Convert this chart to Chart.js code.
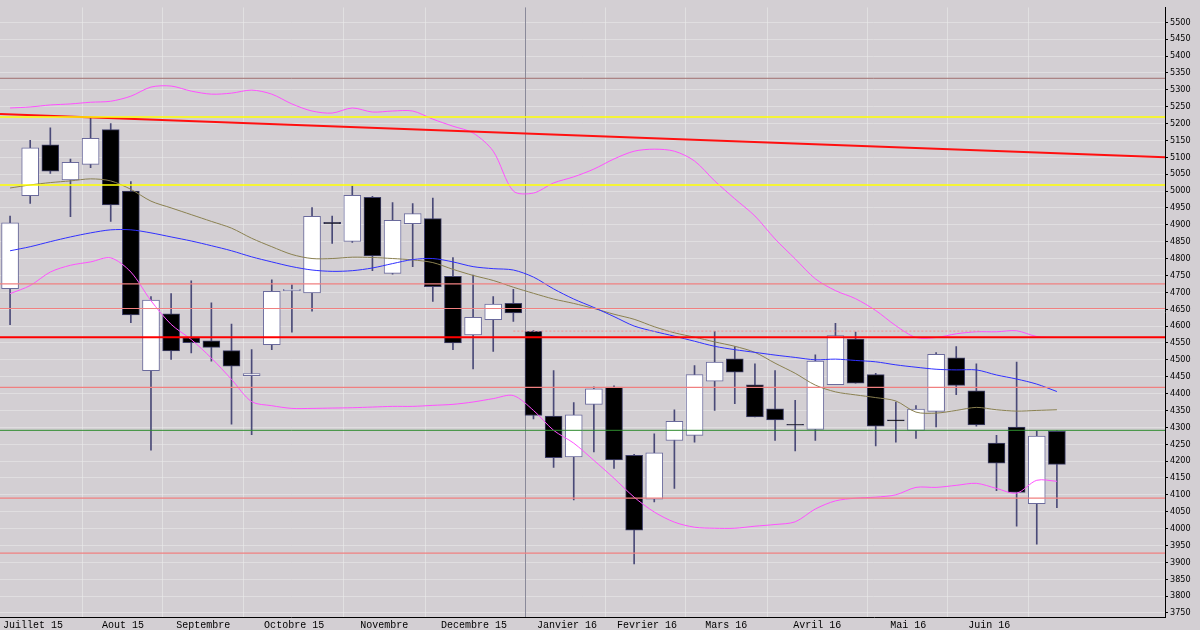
<!DOCTYPE html>
<html>
<head>
<meta charset="utf-8">
<script src="https://cdn.jsdelivr.net/npm/chart.js@4.4.1/dist/chart.umd.min.js"></script>
<style>
  html, body { margin: 0; padding: 0; background: #d3cfd3; }
  #wrap { width: 1200px; height: 630px; }
</style>
</head>
<body>
<div id="wrap"><canvas id="chart" width="1200" height="630"></canvas></div>
<script>
// weekly candles, Juillet 15 -> Juin 16
const opens  = [4711,4986,5137,5033,5079,5182,5000,4468,4636,4566,4556,4527,4453,4545,4705,4698,4907,4851,4981,4756,
                4903,4918,4747,4574,4619,4667,4584,4333,4212,4368,4419,4217,4087,4261,4276,4437,4503,4426,4355,4309,
                4294,4426,4561,4456,4322,4291,4347,4506,4408,4253,4301,4074,4288];
const closes = [4906,5128,5059,5085,5156,4959,4633,4677,4526,4551,4537,4481,4459,4703,4709,4925,4903,4987,4808,4913,
                4933,4717,4550,4626,4665,4639,4335,4210,4337,4414,4203,3995,4224,4318,4456,4493,4463,4331,4322,4306,
                4496,4572,4431,4303,4319,4354,4516,4424,4307,4194,4107,4274,4190];
const highs  = [4926,5150,5187,5095,5217,5200,5028,4687,4696,4734,4669,4606,4530,4737,4722,4951,4926,5015,4984,4966,
                4963,4979,4803,4751,4687,4709,4587,4468,4373,4420,4423,4220,4281,4352,4483,4584,4539,4488,4468,4380,
                4515,4608,4582,4460,4375,4364,4521,4539,4488,4276,4493,4289,4290];
const lows   = [4604,4963,5052,4924,5069,4910,4610,4232,4501,4520,4496,4309,4278,4530,4582,4644,4845,4848,4764,4754,
                4776,4673,4530,4473,4525,4614,4325,4181,4085,4227,4178,3895,4079,4119,4256,4350,4370,4331,4261,4230,
                4261,4426,4431,4245,4256,4267,4301,4397,4303,4112,4007,3954,4062];

const bbUpper = [5246,5249,5255,5258,5263,5266,5281,5308,5311,5296,5287,5290,5299,5287,5258,5237,5231,5246,5234,5237,
                 5237,5213,5192,5172,5118,5000,4994,5024,5042,5065,5095,5118,5124,5118,5089,5030,4977,4926,4858,4799,
                 4740,4705,4681,4646,4601,4566,4566,4577,4583,4583,4586,4569,4566];
const bbMiddle = [4823,4835,4850,4864,4876,4885,4885,4876,4864,4852,4838,4823,4805,4790,4776,4766,4762,4764,4772,4785,
                  4797,4800,4790,4776,4770,4766,4745,4710,4680,4655,4628,4600,4584,4570,4555,4540,4530,4522,4514,4507,
                  4500,4502,4498,4494,4485,4478,4472,4470,4470,4455,4443,4428,4406];
const bbLower = [4696,4720,4760,4780,4790,4802,4760,4675,4605,4560,4505,4442,4376,4364,4356,4356,4357,4358,4360,4362,
                 4362,4365,4368,4375,4385,4394,4350,4291,4253,4202,4149,4093,4049,4019,4004,4001,4001,4007,4012,4020,
                 4058,4082,4090,4093,4100,4122,4122,4128,4134,4119,4105,4143,4140];
const ma = [5009,5018,5025,5030,5036,5030,5005,4970,4950,4930,4910,4890,4860,4835,4812,4800,4800,4804,4803,4800,
            4796,4788,4768,4750,4735,4715,4697,4680,4667,4652,4635,4620,4598,4580,4567,4553,4540,4522,4490,4460,
            4425,4405,4396,4388,4378,4345,4342,4350,4359,4352,4348,4350,4352];

const monthLabels = ['Juillet 15','Aout 15','Septembre','Octobre 15','Novembre','Decembre 15',
                     'Janvier 16','Fevrier 16','Mars 16','Avril 16','Mai 16','Juin 16'];
const monthPos = [-0.35,4.57,8.25,12.62,17.39,21.41,26.18,30.15,34.53,38.9,43.72,47.6];
const gridPos = [3.58,7.55,11.57,16.54,20.62,25.58,29.56,33.53,37.6,42.57,46.55,50.57];
const yearPos = 25.58;
const yTicks = [];
for (let v = 3750; v <= 5500; v += 50) yTicks.push(v);

const redLevels = [4725, 4652, 4418, 4090, 3927];
const maroonLevel = 5334;
const yellowLevels = [5219, 5018];
const supportLevel = 4567;
const greenLevel = 4291;
const dottedLevel = { from: 25, to: 48.2, y: 4585 };
const trendLine = [{ x: -0.5, y: 5228 }, { x: 57.4, y: 5100 }];

const X_MIN = -0.5, X_MAX = 57.37;

const idx = opens.map((_, i) => i);
const upIdx = idx.filter(i => closes[i] >= opens[i]);
const dnIdx = idx.filter(i => closes[i] < opens[i]);

function hline(y, color, width, dash, from, to) {
  return {
    type: 'line',
    data: [{ x: from ?? X_MIN, y: y }, { x: to ?? X_MAX, y: y }],
    borderColor: color, borderWidth: width, borderDash: dash || [],
    pointRadius: 0, order: 0
  };
}
function curve(vals, color) {
  return {
    type: 'line',
    data: vals.map((v, i) => ({ x: i, y: v })),
    borderColor: color, borderWidth: 1, pointRadius: 0, tension: 0.3, order: 0
  };
}

const datasets = [
  {
    type: 'bar', data: idx.map(i => ({ x: i, y: [lows[i], highs[i]] })),
    backgroundColor: '#4a4a78', barThickness: 1, order: 3
  },
  {
    type: 'bar', data: upIdx.map(i => ({ x: i, y: [opens[i], closes[i]] })),
    backgroundColor: '#ffffff', borderColor: '#6a6a9c', borderWidth: 1, borderSkipped: false,
    barThickness: 17, order: 2
  },
  {
    type: 'bar', data: dnIdx.map(i => ({ x: i, y: [opens[i], closes[i]] })),
    backgroundColor: '#000000', borderColor: '#40406a', borderWidth: 1, borderSkipped: false,
    barThickness: 17, order: 2
  },
  hline(maroonLevel, '#a07070', 1),
  ...yellowLevels.map(v => hline(v, '#ffff00', 1.5)),
  ...redLevels.map(v => hline(v, '#f08080', 1.2)),
  hline(greenLevel, '#2e8b2e', 1),
  hline(dottedLevel.y, '#f09090', 1, [2, 2], dottedLevel.from, dottedLevel.to),
  hline(supportLevel, '#ff0000', 2),
  { type: 'line', data: trendLine, borderColor: '#ff1010', borderWidth: 2, pointRadius: 0, order: 0 },
  curve(bbUpper, '#ff50ff'),
  curve(bbLower, '#ff50ff'),
  curve(bbMiddle, '#3030ff'),
  curve(ma, '#8a8050')
];

const vgrid = {
  id: 'vgrid',
  beforeDatasetsDraw(chart) {
    const { ctx, chartArea: a, scales: { x } } = chart;
    ctx.save();
    gridPos.forEach(p => {
      const px = Math.round(x.getPixelForValue(p)) + 0.5;
      ctx.strokeStyle = p === yearPos ? '#8a8a9a' : 'rgba(235,235,235,0.6)';
      ctx.lineWidth = 1;
      ctx.beginPath(); ctx.moveTo(px, a.top); ctx.lineTo(px, a.bottom); ctx.stroke();
    });
    ctx.restore();
  }
};

new Chart(document.getElementById('chart'), {
  data: { datasets },
  plugins: [vgrid],
  options: {
    responsive: false,
    animation: false,
    layout: { padding: 0 },
    plugins: { legend: { display: false }, tooltip: { enabled: false } },
    datasets: { bar: { grouped: false } },
    scales: {
      x: {
        type: 'linear', min: X_MIN, max: X_MAX, offset: false,
        grid: { display: false, drawTicks: false, tickLength: 0 },
        border: { color: '#000', width: 1 },
        afterBuildTicks: s => { s.ticks = monthPos.map(v => ({ value: v })); },
        afterFit: s => { s.height = 13; },
        ticks: {
          autoSkip: false, maxRotation: 0, align: 'start', padding: 2,
          color: '#000', font: { family: 'Liberation Mono', size: 10 },
          callback: (v, i) => monthLabels[i]
        }
      },
      y: {
        position: 'right', min: 3738, max: 5544,
        grid: { color: 'rgba(235,235,235,0.55)', drawTicks: true, tickLength: 3, tickColor: '#000' },
        border: { color: '#000', width: 1 },
        afterBuildTicks: s => { s.ticks = yTicks.map(v => ({ value: v })); },
        afterFit: s => { s.width = 35; },
        ticks: {
          autoSkip: false, padding: 2, color: '#000',
          font: { family: 'DejaVu Sans Condensed', size: 9 },
          callback: v => String(v)
        }
      }
    }
  }
});
</script>
</body>
</html>
